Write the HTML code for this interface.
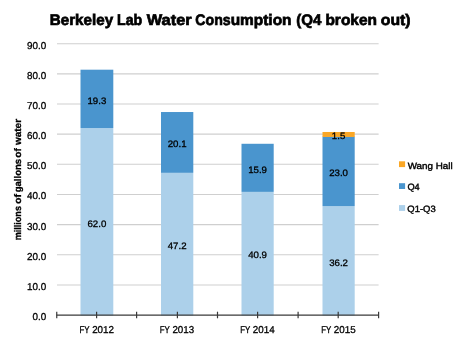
<!DOCTYPE html>
<html><head><meta charset="utf-8"><style>html,body{margin:0;padding:0;background:#fff;width:461px;height:340px;overflow:hidden}svg{display:block;filter:blur(0.3px);}text{font-family:"Liberation Sans",sans-serif;fill:#000;stroke:#000;stroke-width:0.3px;text-rendering:geometricPrecision}.lg{stroke-width:0.4px}.tt{stroke-width:0.7px}.yt{stroke-width:0.3px}</style></head>
<body><svg width="461" height="340" viewBox="0 0 461 340"><line x1="57" x2="378.6" y1="284.93" y2="284.93" stroke="#CFCFCF" stroke-width="1.1"/>
<line x1="57" x2="378.6" y1="254.78" y2="254.78" stroke="#CFCFCF" stroke-width="1.1"/>
<line x1="57" x2="378.6" y1="224.62" y2="224.62" stroke="#CFCFCF" stroke-width="1.1"/>
<line x1="57" x2="378.6" y1="194.47" y2="194.47" stroke="#CFCFCF" stroke-width="1.1"/>
<line x1="57" x2="378.6" y1="164.31" y2="164.31" stroke="#CFCFCF" stroke-width="1.1"/>
<line x1="57" x2="378.6" y1="134.15" y2="134.15" stroke="#CFCFCF" stroke-width="1.1"/>
<line x1="57" x2="378.6" y1="104.00" y2="104.00" stroke="#CFCFCF" stroke-width="1.1"/>
<line x1="57" x2="378.6" y1="73.84" y2="73.84" stroke="#CFCFCF" stroke-width="1.1"/>
<line x1="57" x2="378.6" y1="43.69" y2="43.69" stroke="#CFCFCF" stroke-width="1.1"/>
<rect x="80.50" y="128.06" width="32.80" height="187.51" fill="#ACD0EA"/>
<rect x="80.50" y="69.69" width="32.80" height="58.37" fill="#4A95CE"/>
<rect x="161.00" y="172.82" width="32.30" height="142.75" fill="#ACD0EA"/>
<rect x="161.00" y="112.03" width="32.30" height="60.79" fill="#4A95CE"/>
<rect x="241.50" y="191.87" width="32.20" height="123.70" fill="#ACD0EA"/>
<rect x="241.50" y="143.78" width="32.20" height="48.09" fill="#4A95CE"/>
<rect x="322.50" y="206.09" width="32.20" height="109.48" fill="#ACD0EA"/>
<rect x="322.50" y="136.53" width="32.20" height="69.56" fill="#4A95CE"/>
<rect x="322.50" y="131.99" width="32.20" height="4.94" fill="#FAA726"/>
<line x1="56.5" x2="379" y1="315.2" y2="315.2" stroke="#3A3A3A" stroke-width="1.3"/>
<line x1="56.75" x2="56.75" y1="311.7" y2="318.3" stroke="#3A3A3A" stroke-width="1.2"/>
<line x1="96.60" x2="96.60" y1="311.7" y2="318.3" stroke="#3A3A3A" stroke-width="1.2"/>
<line x1="136.60" x2="136.60" y1="311.7" y2="318.3" stroke="#3A3A3A" stroke-width="1.2"/>
<line x1="177.40" x2="177.40" y1="311.7" y2="318.3" stroke="#3A3A3A" stroke-width="1.2"/>
<line x1="217.50" x2="217.50" y1="311.7" y2="318.3" stroke="#3A3A3A" stroke-width="1.2"/>
<line x1="257.60" x2="257.60" y1="311.7" y2="318.3" stroke="#3A3A3A" stroke-width="1.2"/>
<line x1="298.10" x2="298.10" y1="311.7" y2="318.3" stroke="#3A3A3A" stroke-width="1.2"/>
<line x1="338.20" x2="338.20" y1="311.7" y2="318.3" stroke="#3A3A3A" stroke-width="1.2"/>
<line x1="378.60" x2="378.60" y1="311.7" y2="318.3" stroke="#3A3A3A" stroke-width="1.2"/>
<text x="46.2" y="319.99" text-anchor="end" font-size="10" textLength="13.7" lengthAdjust="spacingAndGlyphs">0.0</text>
<text x="46.2" y="289.83" text-anchor="end" font-size="10" textLength="19.2" lengthAdjust="spacingAndGlyphs">10.0</text>
<text x="46.2" y="259.68" text-anchor="end" font-size="10" textLength="19.2" lengthAdjust="spacingAndGlyphs">20.0</text>
<text x="46.2" y="229.52" text-anchor="end" font-size="10" textLength="19.2" lengthAdjust="spacingAndGlyphs">30.0</text>
<text x="46.2" y="199.37" text-anchor="end" font-size="10" textLength="19.2" lengthAdjust="spacingAndGlyphs">40.0</text>
<text x="46.2" y="169.21" text-anchor="end" font-size="10" textLength="19.2" lengthAdjust="spacingAndGlyphs">50.0</text>
<text x="46.2" y="139.05" text-anchor="end" font-size="10" textLength="19.2" lengthAdjust="spacingAndGlyphs">60.0</text>
<text x="46.2" y="108.90" text-anchor="end" font-size="10" textLength="19.2" lengthAdjust="spacingAndGlyphs">70.0</text>
<text x="46.2" y="78.74" text-anchor="end" font-size="10" textLength="19.2" lengthAdjust="spacingAndGlyphs">80.0</text>
<text x="46.2" y="48.59" text-anchor="end" font-size="10" textLength="19.2" lengthAdjust="spacingAndGlyphs">90.0</text>
<text x="96.90" y="226.51" text-anchor="middle" font-size="9.4" textLength="18.80" lengthAdjust="spacingAndGlyphs">62.0</text>
<text x="96.90" y="103.57" text-anchor="middle" font-size="9.4" textLength="18.80" lengthAdjust="spacingAndGlyphs">19.3</text>
<text x="79.54" y="333" font-size="10" textLength="10.07" lengthAdjust="spacingAndGlyphs">FY</text>
<text x="92.15" y="333" font-size="10" textLength="21.8" lengthAdjust="spacingAndGlyphs">2012</text>
<text x="177.15" y="248.89" text-anchor="middle" font-size="9.4" textLength="18.80" lengthAdjust="spacingAndGlyphs">47.2</text>
<text x="177.15" y="147.12" text-anchor="middle" font-size="9.4" textLength="18.80" lengthAdjust="spacingAndGlyphs">20.1</text>
<text x="159.79" y="333" font-size="10" textLength="10.07" lengthAdjust="spacingAndGlyphs">FY</text>
<text x="172.40" y="333" font-size="10" textLength="21.8" lengthAdjust="spacingAndGlyphs">2013</text>
<text x="257.60" y="258.42" text-anchor="middle" font-size="9.4" textLength="18.80" lengthAdjust="spacingAndGlyphs">40.9</text>
<text x="257.60" y="172.53" text-anchor="middle" font-size="9.4" textLength="18.80" lengthAdjust="spacingAndGlyphs">15.9</text>
<text x="240.24" y="333" font-size="10" textLength="10.07" lengthAdjust="spacingAndGlyphs">FY</text>
<text x="252.85" y="333" font-size="10" textLength="21.8" lengthAdjust="spacingAndGlyphs">2014</text>
<text x="338.60" y="265.53" text-anchor="middle" font-size="9.4" textLength="18.80" lengthAdjust="spacingAndGlyphs">36.2</text>
<text x="338.60" y="176.01" text-anchor="middle" font-size="9.4" textLength="18.80" lengthAdjust="spacingAndGlyphs">23.0</text>
<text x="338.60" y="138.96" text-anchor="middle" font-size="9.4" textLength="13.43" lengthAdjust="spacingAndGlyphs">1.5</text>
<text x="321.24" y="333" font-size="10" textLength="10.07" lengthAdjust="spacingAndGlyphs">FY</text>
<text x="333.85" y="333" font-size="10" textLength="21.8" lengthAdjust="spacingAndGlyphs">2015</text>
<text class="tt" x="49.73" y="24.9" font-size="15.3" font-weight="bold" textLength="63.39" lengthAdjust="spacingAndGlyphs">Berkeley</text>
<text class="tt" x="117.12" y="24.9" font-size="15.3" font-weight="bold" textLength="25.16" lengthAdjust="spacingAndGlyphs">Lab</text>
<text class="tt" x="146.75" y="24.9" font-size="15.3" font-weight="bold" textLength="44.86" lengthAdjust="spacingAndGlyphs">Water</text>
<text class="tt" x="195.32" y="24.9" font-size="15.3" font-weight="bold" textLength="35.32" lengthAdjust="spacingAndGlyphs">Cons</text>
<text class="tt" x="230.65" y="24.9" font-size="15.3" font-weight="bold" textLength="60.87" lengthAdjust="spacingAndGlyphs">umption</text>
<text class="tt" x="296.3" y="24.9" font-size="15.3" font-weight="bold" textLength="25.09" lengthAdjust="spacingAndGlyphs">(Q4</text>
<text class="tt" x="325.45" y="24.9" font-size="15.3" font-weight="bold" textLength="51.51" lengthAdjust="spacingAndGlyphs">broken</text>
<text class="tt" x="380.79" y="24.9" font-size="15.3" font-weight="bold" textLength="29.73" lengthAdjust="spacingAndGlyphs">out)</text>
<g transform="translate(20.6,0) rotate(-90)"><text class="yt" x="-240.31" y="0" font-size="9.6" font-weight="bold" textLength="34.23" lengthAdjust="spacingAndGlyphs">millions</text><text class="yt" x="-204.05" y="0" font-size="9.6" font-weight="bold" textLength="9.97" lengthAdjust="spacingAndGlyphs">of</text><text class="yt" x="-192.25" y="0" font-size="9.6" font-weight="bold" textLength="33.37" lengthAdjust="spacingAndGlyphs">gallons</text><text class="yt" x="-157.65" y="0" font-size="9.6" font-weight="bold" textLength="9.61" lengthAdjust="spacingAndGlyphs">of</text><text class="yt" x="-145.05" y="0" font-size="9.6" font-weight="bold" textLength="26.07" lengthAdjust="spacingAndGlyphs">water</text></g>
<rect x="399" y="161.30" width="6.1" height="5.8" fill="#FAA726"/>
<text class="lg" x="407.65" y="168.6" font-size="9.2" textLength="44.93" lengthAdjust="spacingAndGlyphs">Wang Hall</text>
<rect x="399" y="183.20" width="6.1" height="5.8" fill="#4A95CE"/>
<text class="lg" x="407.45" y="190.2" font-size="9.2" textLength="12.27" lengthAdjust="spacingAndGlyphs">Q4</text>
<rect x="399" y="205.10" width="6.1" height="5.8" fill="#ACD0EA"/>
<text class="lg" x="407.35" y="211.8" font-size="9.2" textLength="28.33" lengthAdjust="spacingAndGlyphs">Q1-Q3</text></svg></body></html>
